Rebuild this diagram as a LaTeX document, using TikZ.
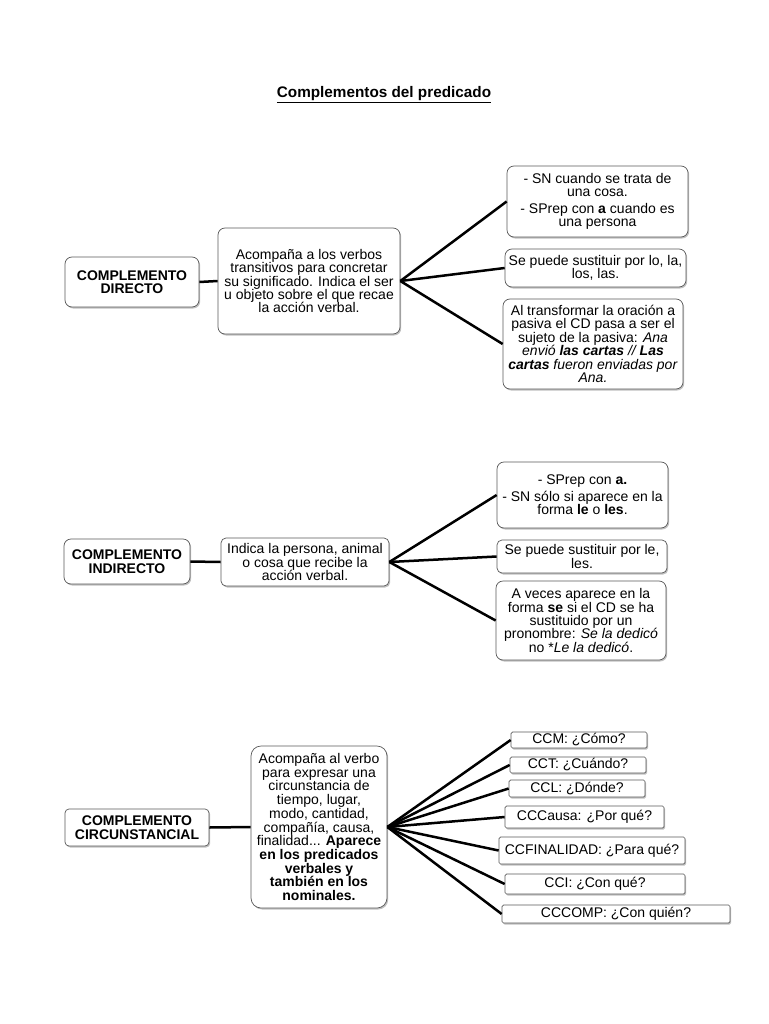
\documentclass[tikz,border=0pt]{standalone}
\usepackage{fontspec}
\setmainfont{Liberation Sans}
\usetikzlibrary{shadows}
\begin{document}
\begin{tikzpicture}[x=1pt,y=-1pt,
  box/.style={draw=black!65, line width=0.7pt, rounded corners=7pt, fill=white,
    align=center, inner sep=1pt, font=\fontsize{14}{13.4}\selectfont,
    drop shadow={shadow xshift=1.2pt, shadow yshift=-1.5pt, fill=black!45, opacity=0.55}},
  sbox/.style={box, rounded corners=1.5pt, inner ysep=0pt},
  link/.style={draw=black, line width=2.5pt}]
\useasboundingbox (0,0) rectangle (768,1024);

\node[font=\fontsize{15.3}{17}\selectfont\bfseries] (title) at (384,95) {\underline{Complementos del predicado}};

% Section 1
\node[box, minimum width=134, minimum height=50] (cd) at (132,282) {\textbf{COMPLEMENTO}\\\textbf{DIRECTO}};
\node[box, minimum width=182, minimum height=106] (m1) at (309,281) {Acompaña a los verbos\\transitivos para concretar\\su significado. Indica el ser\\u objeto sobre el que recae\\la acción verbal.};
\node[box, minimum width=181, minimum height=71] (r11) at (597.5,201.5) {- SN cuando se trata de\\una cosa.\\[3pt]- SPrep con \textbf{a} cuando es\\una persona};
\node[box, minimum width=181, minimum height=38] (r12) at (595.5,268) {Se puede sustituir por lo, la,\\los, las.};
\node[box, minimum width=180, minimum height=90] (r13) at (593,344) {Al transformar la oración a\\pasiva el CD pasa a ser el\\sujeto de la pasiva: \textit{Ana}\\\textit{envió \textbf{las cartas} // \textbf{Las}}\\\textit{\textbf{cartas} fueron enviadas por}\\\textit{Ana.}};

\draw[link] (cd.east) -- (m1.west);
\draw[link] (m1.east) -- (r11.west);
\draw[link] (m1.east) -- (r12.west);
\draw[link] (m1.east) -- (r13.west);

% Section 2
\node[box, minimum width=126, minimum height=45] (ci) at (127,561.5) {\textbf{COMPLEMENTO}\\\textbf{INDIRECTO}};
\node[box, rounded corners=5pt, minimum width=168, minimum height=48] (m2) at (305,562) {Indica la persona, animal\\o cosa que recibe la\\acción verbal.};
\node[box, minimum width=171, minimum height=66] (r21) at (582.5,495) {- SPrep con \textbf{a.}\\[3pt]- SN sólo si aparece en la\\forma \textbf{le} o \textbf{les}.};
\node[box, rounded corners=5pt, minimum width=170, minimum height=33] (r22) at (582,556.5) {Se puede sustituir por le,\\les.};
\node[box, minimum width=170, minimum height=79] (r23) at (581,620.5) {A veces aparece en la\\forma \textbf{se} si el CD se ha\\sustituido por un\\pronombre: \textit{Se la dedicó}\\no *\textit{Le la dedicó}.};

\draw[link] (ci.east) -- (m2.west);
\draw[link] (m2.east) -- (r21.west);
\draw[link] (m2.east) -- (r22.west);
\draw[link] (m2.east) -- (r23.west);

% Section 3
\node[box, rounded corners=4pt, minimum width=144, minimum height=37] (cc) at (137,827.5) {\textbf{COMPLEMENTO}\\\textbf{CIRCUNSTANCIAL}};
\node[box, rounded corners=10pt, minimum width=136, minimum height=162, font=\fontsize{14}{13.7}\selectfont] (m3) at (319,827) {Acompaña al verbo\\para expresar una\\circunstancia de\\tiempo, lugar,\\modo, cantidad,\\compañía, causa,\\finalidad... \textbf{Aparece}\\\textbf{en los predicados}\\\textbf{verbales y}\\\textbf{también en los}\\\textbf{nominales.}};
\node[sbox, minimum width=136, minimum height=16] (c1) at (579,740) {CCM: ¿Cómo?};
\node[sbox, minimum width=136, minimum height=16] (c2) at (578,765) {CCT: ¿Cuándo?};
\node[sbox, minimum width=136, minimum height=17] (c3) at (577,788.5) {CCL: ¿Dónde?};
\node[sbox, minimum width=159, minimum height=22] (c4) at (584.5,817) {CCCausa: ¿Por qué?};
\node[sbox, minimum width=186, minimum height=27] (c5) at (592,850.5) {CCFINALIDAD: ¿Para qué?};
\node[sbox, minimum width=180, minimum height=20] (c6) at (595,884) {CCI: ¿Con qué?};
\node[sbox, minimum width=228, minimum height=18] (c7) at (616,914) {CCCOMP: ¿Con quién?};

\draw[link] (cc.east) -- (m3.west);
\foreach \c in {c1,c2,c3,c4,c5,c6,c7}{\draw[link] (m3.east) -- (\c.west);}
\end{tikzpicture}
\end{document}
